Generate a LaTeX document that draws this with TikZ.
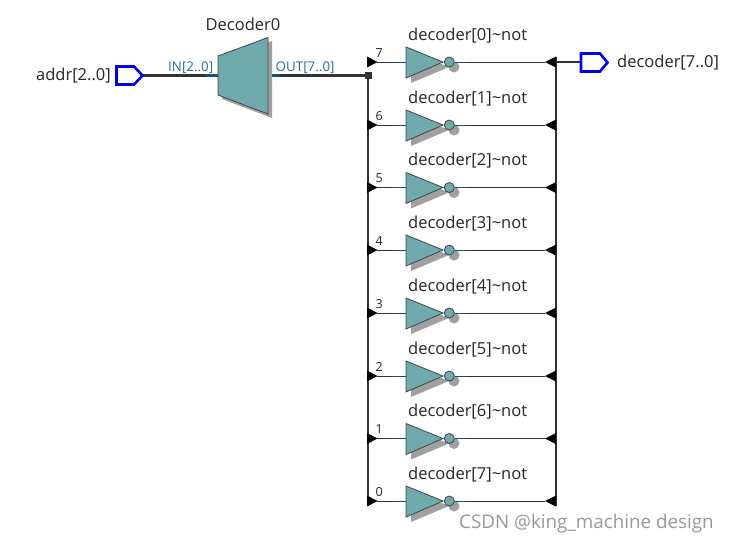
\documentclass[tikz,border=0pt]{standalone}
\usepackage{fontspec}
\usetikzlibrary{calc}
\setmainfont{Open Sans}
\definecolor{teal1}{RGB}{113,170,172}
\definecolor{edge1}{RGB}{60,70,75}
\definecolor{shad}{RGB}{160,160,160}
\definecolor{wire}{RGB}{50,50,50}
\definecolor{wireb}{RGB}{20,80,120}
\definecolor{lab}{RGB}{45,110,150}
\definecolor{pinb}{RGB}{0,0,235}
\tikzset{
  txtlabel/.style={inner sep=0pt,font=\fontsize{16.5}{18}\selectfont,text=black!85},
  portlabel/.style={inner sep=0pt,font=\fontsize{13.4}{15}\selectfont,text=lab},
  idxlabel/.style={inner sep=0pt,font=\fontsize{12.5}{14}\selectfont,text=black!85},
  wmark/.style={inner sep=0pt,font=\fontsize{18.8}{20}\selectfont,text=black!40},
  buswire/.style={draw=wire,line width=2.8pt},
  thinwire/.style={draw=wire,line width=0.9pt},
  gatebody/.style={fill=teal1,draw=edge1,line width=0.8pt,line join=miter},
  pinbody/.style={draw=pinb,line width=2.6pt,fill=white,line join=miter},
  arrowtri/.style={fill=black,draw=none},
}
\begin{document}
\begin{tikzpicture}[x=1pt,y=-1pt]
\useasboundingbox (0,0) rectangle (729,542);
\fill[white] (0,0) rectangle (729,542);
% named anchors
\coordinate (inpin) at (143,75.5);
\coordinate (decin) at (218,75.5);
\coordinate (decout) at (268,75.5);
\coordinate (junc) at (368,75.5);
\coordinate (lbusend) at (368,506);
\coordinate (rbustop) at (556,57);
\coordinate (rbusend) at (556,506);
\coordinate (rbusout) at (556,62);
\coordinate (outpin) at (581,62);
% buses
\draw[buswire] (inpin) -- (decin);
\draw[draw=wireb,line width=2.8pt] (205,75.5) -- (decin);
\draw[buswire] (decout) -- (junc);
\draw[draw=wireb,line width=2.8pt] (decout) -- (280,75.5);
\draw[buswire] (junc) -- (lbusend);
\draw[buswire] (rbustop) -- (rbusend);
\draw[buswire] (rbusout) -- (outpin);
\fill[wire] ($(junc)+(-3.5,-3.5)$) rectangle ($(junc)+(3.5,3.5)$);
% pins
\draw[pinbody] (116.5,66.5) -- (134,66.5) -- (142.5,75.5) -- (134,84.5) -- (116.5,84.5) -- cycle;
\draw[pinbody] (581,53.5) -- (600,53.5) -- (607.5,62.5) -- (600,71.5) -- (581,71.5) -- cycle;
% decoder
\fill[shad] (222,60) -- (272,41) -- (272,118) -- (222,99) -- cycle;
\draw[gatebody] (218,56) -- (268,37.5) -- (268,114) -- (218,95) -- cycle;
% labels
\node[txtlabel,anchor=base east] (lin) at (111,80.5) {addr[2..0]};
\node[txtlabel,anchor=base] (ldec) at (243,30) {Decoder0};
\node[portlabel,anchor=base west] (lpin) at (168,71) {IN[2..0]};
\node[portlabel,anchor=base west] (lpout) at (275.5,71) {OUT[7..0]};
\node[txtlabel,anchor=base west] (lout) at (617,67) {decoder[7..0]};
% rows
\foreach \i/\y/\b in {0/62/7,1/125/6,2/187.5/5,3/250/4,4/313/3,5/376/2,6/438.5/1,7/501/0}{
  \begin{scope}[shift={(0,\y)}]
    \coordinate (gi\i) at (406,0);
    \coordinate (go\i) at (454.5,0);
    \coordinate (la\i) at (377,0);
    \coordinate (ra\i) at (545,0);
    \fill[shad] (411,-10) -- (449,5) -- (411,21) -- cycle;
    \fill[shad] (454,5) circle (5.5);
    \draw[thinwire] (la\i) -- (gi\i);
    \draw[draw=wireb,line width=0.9pt] (393,0) -- (gi\i);
    \draw[thinwire] (go\i) -- (ra\i);
    \draw[draw=wireb,line width=0.9pt] (go\i) -- (466,0);
    \draw[gatebody] (406,-15) -- (443,0) -- (406,16) -- cycle;
    \draw[gatebody] (449.3,0) circle (5);
    \fill[arrowtri] (367,-5.5) -- (377.5,0) -- (367,5.5) -- cycle;
    \fill[arrowtri] (556,-5.5) -- (545,0) -- (556,5.5) -- cycle;
    \node[idxlabel,anchor=base west] (b\i) at (375.5,-5) {\b};
    \node[txtlabel,anchor=base west] (n\i) at (408,-22) {decoder[\i]\char`\~not};
  \end{scope}
}
\node[wmark,anchor=base west] (wm) at (459,528) {CSDN @king\_machine design};
\end{tikzpicture}
\end{document}
